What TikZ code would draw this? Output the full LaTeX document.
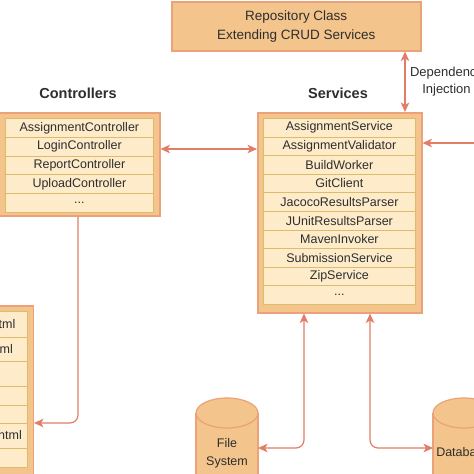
\documentclass[tikz,border=0pt]{standalone}
\usepackage{fontspec}
\setmainfont{Liberation Sans}
\usetikzlibrary{arrows.meta}
\definecolor{boxfill}{HTML}{F3C48B}
\definecolor{boxline}{HTML}{EBA27A}
\definecolor{rowfill}{HTML}{FDEBC9}
\definecolor{rowline}{HTML}{DDBB6A}
\definecolor{arrowc}{HTML}{E27D68}
\definecolor{txt}{HTML}{2E2E2E}
\begin{document}
\begin{tikzpicture}[x=1pt,y=-1pt,
  outerbox/.style={draw=boxline,fill=boxfill,line width=1.5pt,inner sep=0pt},
  rowbox/.style={draw=rowline,fill=rowfill,line width=0.8pt,inner sep=0pt,text=txt,font=\fontsize{12.5}{14}\selectfont},
  heading/.style={font=\bfseries\fontsize{14.5}{17}\selectfont,text=txt},
  plaintext/.style={text=txt,align=center,inner sep=0pt},
  conn/.style={draw=arrowc,line width=1.2pt},
  tipend/.style={-{Stealth[length=9.5pt,width=8.5pt,inset=2.5pt]}},
  tipboth/.style={{Stealth[length=9.5pt,width=8.5pt,inset=2.5pt]}-{Stealth[length=9.5pt,width=8.5pt,inset=2.5pt]}},
  cyl/.style={fill=boxfill,draw=boxline,line width=1.2pt}
]
\useasboundingbox (0,0) rectangle (474,474);
\clip (0,0) rectangle (474,474);
\fill[white] (0,0) rectangle (474,474);

% Repository box
\node[outerbox,minimum width=249pt,minimum height=49pt,anchor=north west,
      font=\fontsize{13.5}{19}\selectfont,text=txt,align=center] (repo) at (171,1)
      {Repository Class\\Extending CRUD Services};

% Headings
\node[heading] (hctrl) at (78,93) {Controllers};
\node[heading] (hsvc) at (338,93) {Services};

% Dependency Injection label
\node[plaintext,font=\fontsize{13}{17}\selectfont] (dilabel) at (446.5,81.5) {Dependency\\Injection};

% Controllers box
\node[outerbox,minimum width=162pt,minimum height=103pt,anchor=north west] (ctrl) at (-3,112) {};
\foreach \t [count=\i from 0] in {AssignmentController,LoginController,ReportController,UploadController}
  \node[rowbox,minimum width=148pt,minimum height=18.8pt,anchor=north west] (c\i) at (5,{118+18.8*\i}) {\t};
\node[rowbox,minimum width=148pt,minimum height=18.8pt,anchor=north west] (c4) at (5,{118+18.8*4}) {...};

% Services box
\node[outerbox,minimum width=164pt,minimum height=200pt,anchor=north west] (svc) at (257,112) {};
\foreach \t [count=\i from 0] in {AssignmentService,AssignmentValidator,BuildWorker,GitClient,JacocoResultsParser,JUnitResultsParser,MavenInvoker,SubmissionService,ZipService}
  \node[rowbox,minimum width=152pt,minimum height=18.6pt,anchor=north west] (s\i) at (263,{118+18.6*\i}) {\t};
\node[rowbox,minimum width=152pt,minimum height=18.6pt,anchor=north west] (s9) at (263,{118+18.6*9}) {...};

% Views box (bottom left, cut off)
\node[outerbox,minimum width=50pt,minimum height=180pt,anchor=north east] (views) at (34,305) {};
\node[rowbox,minimum width=48pt,minimum height=26pt,anchor=north east] (v1) at (28,311) {};
\node[rowbox,minimum width=48pt,minimum height=24pt,anchor=north east] (v2) at (28,337) {};
\node[rowbox,minimum width=48pt,minimum height=25pt,anchor=north east] (v3) at (28,361) {};
\node[rowbox,minimum width=48pt,minimum height=19pt,anchor=north east] (v4) at (28,386) {};
\node[rowbox,minimum width=48pt,minimum height=18pt,anchor=north east] (v5) at (28,405) {};
\node[rowbox,minimum width=48pt,minimum height=25pt,anchor=north east] (v6) at (28,423) {};
\node[rowbox,minimum width=48pt,minimum height=19pt,anchor=north east] (v7) at (28,448) {};
\node[plaintext,font=\fontsize{12.5}{14}\selectfont,anchor=east] (vt1) at (15.5,324) {html};
\node[plaintext,font=\fontsize{12.5}{14}\selectfont,anchor=east] (vt2) at (13,349) {html};
\node[plaintext,font=\fontsize{12.5}{14}\selectfont,anchor=east] (vt6) at (22,435.5) {html};

% Cylinders
\fill[boxfill] (196,413) rectangle (258,490);
\draw[cyl] (227,413) ellipse [x radius=31, y radius=15];
\draw[boxline,line width=1.2pt] (196,413) -- (196,490) (258,413) -- (258,490);
\node[plaintext,font=\fontsize{12.5}{18}\selectfont] (fs) at (227,453.5) {File\\System};

\fill[boxfill] (433,413) rectangle (495,490);
\draw[cyl] (464,413) ellipse [x radius=31, y radius=15];
\draw[boxline,line width=1.2pt] (433,413) -- (433,490) (495,413) -- (495,490);
\node[plaintext,font=\fontsize{12.5}{14}\selectfont] (db) at (463,452) {Database};

% Connector coordinates
\coordinate (dep) at (405,0);
\coordinate (hmid) at (0,149);
\coordinate (rin) at (480,143);
\coordinate (b1) at (304,448);
\coordinate (b2) at (370,448);
\coordinate (fsedge) at (258,448);
\coordinate (dbedge) at (433,448);
\coordinate (vb) at (78,423);

% Connectors
\draw[conn,tipboth] (repo.south -| dep) -- (svc.north -| dep);
\draw[conn,tipboth] (ctrl.east |- hmid) -- (svc.west |- hmid);
\draw[conn,tipend] (rin) -- (svc.east |- rin);
\draw[conn,tipboth,rounded corners=8pt] (svc.south -| b1) -- (b1) -- (fsedge);
\draw[conn,tipboth,rounded corners=8pt] (svc.south -| b2) -- (b2) -- (dbedge);
\draw[conn,tipend,rounded corners=8pt] (ctrl.south -| vb) -- (vb) -- (views.east |- vb);
\end{tikzpicture}
\end{document}
